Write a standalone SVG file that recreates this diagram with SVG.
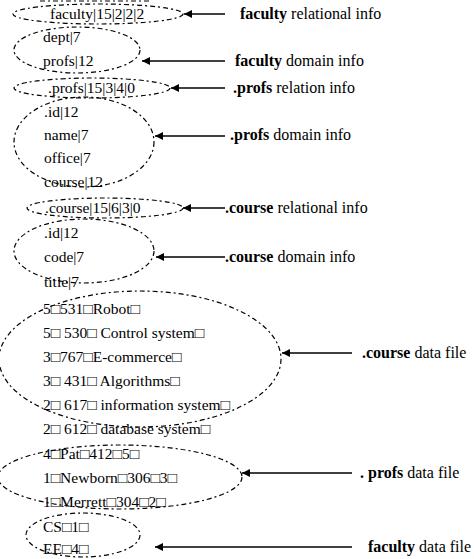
<svg xmlns="http://www.w3.org/2000/svg" width="474" height="559" viewBox="0 0 474 559">
<style>
text{font-family:"Liberation Serif","Times New Roman","DejaVu Serif",serif;font-size:15.5px;fill:#000}
.lb{font-size:16px}
.b{font-weight:bold}
ellipse,.dash{fill:none;stroke:#000;stroke-width:1.2;stroke-dasharray:5 3 2 3}
.con line{stroke:#000;stroke-width:1.3;marker-end:url(#ah)}
</style>
<defs>
<marker id="ah" viewBox="0 0 10 10" refX="10" refY="5" markerWidth="8" markerHeight="8" markerUnits="userSpaceOnUse" orient="auto">
<path d="M0,0 L10,5 L0,10 z" fill="#000"/>
</marker>
</defs>
<path class="dash" d="M40,1 L150,1"/>
<g id="n1"><ellipse cx="98" cy="14" rx="85" ry="10"/><text x="50" y="19">faculty|15|2|2|2</text></g>
<g id="n2"><ellipse cx="77" cy="50" rx="63" ry="23"/><text x="43" y="42">dept|7</text><text x="43" y="66">profs|12</text></g>
<g id="n3"><ellipse cx="92" cy="88" rx="78" ry="10"/><text x="48" y="93">.profs|15|3|4|0</text></g>
<g id="n4"><ellipse cx="84" cy="142" rx="70" ry="45"/><text x="44" y="117">.id|12</text><text x="44" y="140">name|7</text><text x="44" y="163">office|7</text><text x="44" y="187">course|12</text></g>
<g id="n5"><ellipse cx="105" cy="208" rx="78" ry="10"/><text x="45" y="213">.course|15|6|3|0</text></g>
<g id="n6"><ellipse cx="84" cy="251" rx="70" ry="32"/><text x="44" y="238">.id|12</text><text x="44" y="262">code|7</text><text x="44" y="287">title|7</text></g>
<g id="n7"><ellipse cx="140" cy="359" rx="141" ry="68"/>
<text x="43" y="314">5□531□Robot□</text>
<text x="43" y="338">5□ 530□ Control system□</text>
<text x="43" y="362">3□767□E-commerce□</text>
<text x="43" y="386">3□ 431□ Algorithms□</text>
<text x="43" y="410">2□ 617□ information system□</text>
<text x="43" y="434">2□ 612□ database system□</text></g>
<g id="n8"><ellipse cx="120" cy="477" rx="122" ry="32"/>
<text x="43" y="459">4□Pat□412□5□</text>
<text x="43" y="483">1□Newborn□306□3□</text>
<text x="43" y="507">1□Merrett□304□2□</text></g>
<g id="n9"><ellipse cx="83" cy="535" rx="57" ry="22"/><text x="43" y="532">CS□1□</text><text x="43" y="554">EE□4□</text></g>
<g class="con" id="connectors">
<line x1="225" y1="14" x2="184" y2="14"/>
<line x1="225" y1="61" x2="142" y2="61"/>
<line x1="225" y1="88" x2="171" y2="88"/>
<line x1="225" y1="136" x2="155" y2="136"/>
<line x1="225" y1="208" x2="183" y2="208"/>
<line x1="225" y1="257" x2="156" y2="257"/>
<line x1="352" y1="353" x2="282" y2="353"/>
<line x1="352" y1="473" x2="242" y2="473"/>
<line x1="352" y1="547" x2="155" y2="547"/>
</g>
<g id="labels">
<text class="lb" x="240" y="19"><tspan class="b">faculty</tspan> relational info</text>
<text class="lb" x="235" y="66"><tspan class="b">faculty</tspan> domain info</text>
<text class="lb" x="233" y="93"><tspan class="b">.profs</tspan> relation info</text>
<text class="lb" x="230" y="140"><tspan class="b">.profs</tspan> domain info</text>
<text class="lb" x="225" y="213"><tspan class="b">.course</tspan> relational info</text>
<text class="lb" x="225" y="262"><tspan class="b">.course</tspan> domain info</text>
<text class="lb" x="362" y="358"><tspan class="b">.course</tspan> data file</text>
<text class="lb" x="360" y="478"><tspan class="b">. profs</tspan> data file</text>
<text class="lb" x="368" y="552"><tspan class="b">faculty</tspan> data file</text>
</g>
</svg>
